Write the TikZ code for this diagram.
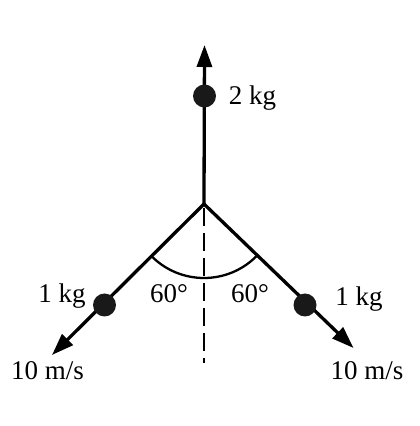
\documentclass[tikz,border=0pt]{standalone}
\usepackage{fontspec}
\setmainfont{Liberation Serif}
\usetikzlibrary{arrows.meta}
\begin{document}
\begin{tikzpicture}[x=1pt,y=1pt,
  rod/.style={line width=3.3pt,-{Triangle[length=22pt,width=15pt]}},
  ball/.style={circle,fill=black!90,inner sep=0pt,minimum size=23pt},
  lbl/.style={font=\fontsize{27}{30}\selectfont,inner sep=0pt,anchor=base}]
\useasboundingbox (0,0) rectangle (420,426);
\coordinate (O) at (204,222);
\coordinate (T) at (204.5,381);
\coordinate (L) at (52,71);
\coordinate (R) at (353.5,78);
\coordinate (D) at (204,63);
\draw[line width=1.3pt,dash pattern=on 18pt off 7pt,dash phase=-4pt] (O) -- (D);
\draw[line width=2.3pt] (O) ++(225:74) arc[start angle=225,end angle=315,radius=74];
\draw[rod] (O) -- (T);
\draw[rod] (O) -- (L);
\draw[rod] (O) -- (R);
\node[ball] (m2) at (204.5,330) {};
\node[ball] (m1l) at (104.5,121) {};
\node[ball] (m1r) at (305,121) {};
\node[lbl] (t2) at (252.5,321) {2 kg};
\node[lbl] (a1) at (169,123) {60°};
\node[lbl] (a2) at (250,123) {60°};
\node[lbl] (t1l) at (62,123) {1 kg};
\node[lbl] (t1r) at (359,120) {1 kg};
\node[lbl] (v1) at (47.5,46) {10 m/s};
\node[lbl] (v2) at (367,46) {10 m/s};
\end{tikzpicture}
\end{document}
